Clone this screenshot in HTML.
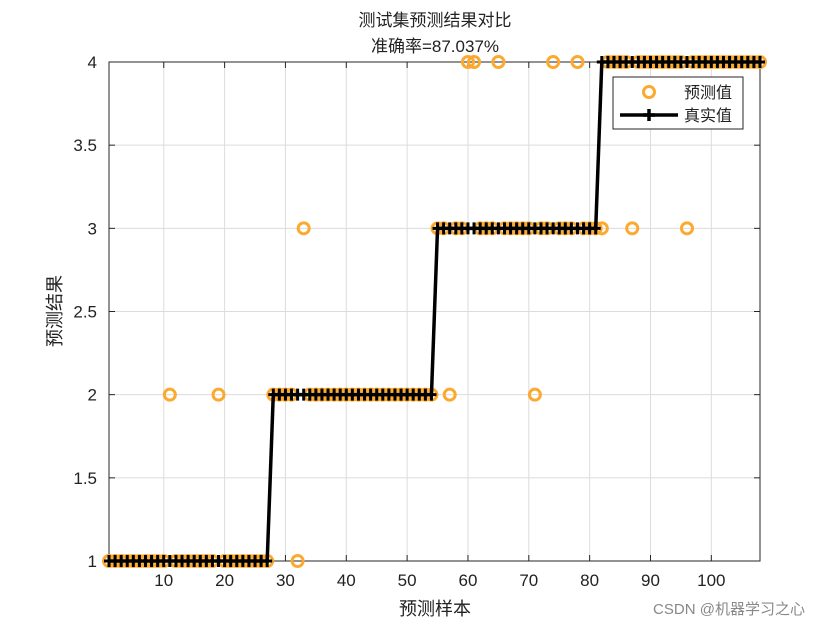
<!DOCTYPE html>
<html><head><meta charset="utf-8">
<style>
body{margin:0;background:#fff;}
svg text{font-family:"Liberation Sans","Noto Sans CJK SC",sans-serif;}
</style></head>
<body>
<svg id="chart" width="840" height="630" xmlns="http://www.w3.org/2000/svg">
<rect x="0" y="0" width="840" height="630" fill="#fff"/>
<g id="grid"></g>
<rect x="109" y="62" width="651" height="499" fill="none" stroke="#262626" stroke-width="1"/>
<g id="ticks"></g>
<g id="series"></g>
<text x="435" y="26" font-size="17" text-anchor="middle" fill="#222">测试集预测结果对比</text>
<text x="435" y="52" font-size="17" text-anchor="middle" fill="#222">准确率=87.037%</text>
<text x="435" y="615" font-size="18" text-anchor="middle" fill="#222">预测样本</text>
<text x="61" y="311" font-size="18" text-anchor="middle" fill="#222" transform="rotate(-90 61 311)">预测结果</text>
<g>
<rect x="613" y="77" width="130" height="52" fill="#fff" stroke="#262626" stroke-width="1"/>
<circle cx="649" cy="92" r="5.5" fill="none" stroke="#FBAA2F" stroke-width="3"/>
<text x="684" y="98" font-size="16" fill="#222">预测值</text>
<line x1="620" y1="115" x2="678" y2="115" stroke="#000" stroke-width="3.5"/>
<path d="M649 109V121M643 115H655" stroke="#000" stroke-width="3.5"/>
<text x="684" y="121" font-size="16" fill="#222">真实值</text>
</g>
<text x="729" y="614" font-size="15" text-anchor="middle" fill="#888">CSDN @机器学习之心</text>
</svg>
<script>
const xTicks=[10,20,30,40,50,60,70,80,90,100];
const yTicks=[1,1.5,2,2.5,3,3.5,4];
const yTickLabels=["1","1.5","2","2.5","3","3.5","4"];
const trueValues=[].concat(Array(27).fill(1),Array(27).fill(2),Array(27).fill(3),Array(27).fill(4));
const wrongIdx=[11,19,32,33,57,60,61,65,71,74,78,82,87,96];
const wrongVals=[2,2,1,3,2,4,4,4,2,4,4,3,3,3];
const predValues=trueValues.map((v,i)=>{const k=wrongIdx.indexOf(i+1);return k>=0?wrongVals[k]:v;});
const NS="http://www.w3.org/2000/svg";
const X0=109,X1=760,Y0=561,Y1=62;
const xs=v=>X0+(v-1)/(108-1)*(X1-X0);
const ys=v=>Y0-(v-1)/(4-1)*(Y0-Y1);
function mk(t,a,p){const e=document.createElementNS(NS,t);for(const k in a)e.setAttribute(k,a[k]);p.appendChild(e);return e;}
const grid=document.getElementById('grid'),ticks=document.getElementById('ticks'),ser=document.getElementById('series');
xTicks.forEach(t=>{const x=xs(t);
 const g=mk('line',{x1:x,x2:x,y1:Y1,y2:Y0,stroke:'#dcdcdc','stroke-width':1},grid);
 
 const a=mk('line',{x1:x,x2:x,y1:Y0,y2:Y0-6,stroke:'#262626'},ticks);
 
 const b=mk('line',{x1:x,x2:x,y1:Y1,y2:Y1+6,stroke:'#262626'},ticks);
 
 const tx=mk('text',{x:x,y:Y0+25,'font-size':17,'text-anchor':'middle',fill:'#222'},ticks);tx.textContent=t;
 });
yTicks.forEach((t,i)=>{const y=ys(t);
 const g=mk('line',{x1:X0,x2:X1,y1:y,y2:y,stroke:'#dcdcdc','stroke-width':1},grid);
 
 const a=mk('line',{x1:X0,x2:X0+6,y1:y,y2:y,stroke:'#262626'},ticks);
 
 const b=mk('line',{x1:X1,x2:X1-6,y1:y,y2:y,stroke:'#262626'},ticks);
 
 const tx=mk('text',{x:X0-12,y:y+6,'font-size':17,'text-anchor':'end',fill:'#222'},ticks);tx.textContent=yTickLabels[i];
 });
predValues.forEach((v,i)=>{const c=mk('circle',{cx:xs(i+1),cy:ys(v),r:5.5,fill:'none',stroke:'#FBAA2F','stroke-width':3},ser);
 });
const pl=mk('polyline',{points:trueValues.map((v,i)=>xs(i+1)+','+ys(v)).join(' '),fill:'none',stroke:'#000','stroke-width':3.5},ser);

trueValues.forEach((v,i)=>{const x=xs(i+1),y=ys(v);
 const p=mk('path',{d:`M${x} ${y-6}V${y+6}M${x-5} ${y}H${x+5}`,stroke:'#000','stroke-width':3},ser);
 });
</script>
</body></html>
